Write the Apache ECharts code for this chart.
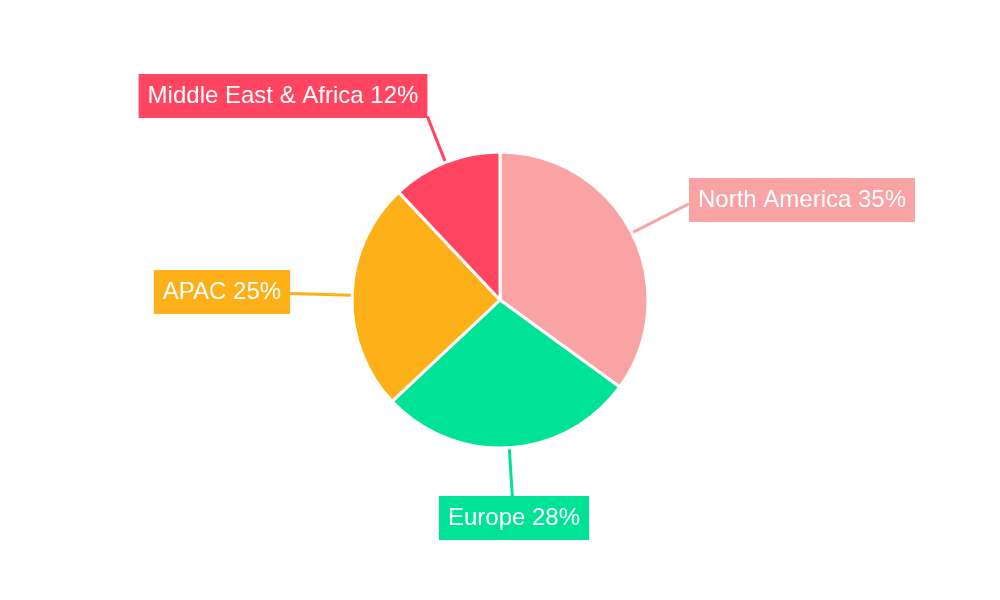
<!DOCTYPE html>
<html><head><meta charset="utf-8">
<script src="https://cdn.jsdelivr.net/npm/echarts@6/dist/echarts.min.js"></script>
<style>html,body{margin:0;padding:0;background:#fff}#c{width:1000px;height:600px}</style>
</head><body><div id="c"></div>
<script>
const categories = ["North America", "Europe", "APAC", "Middle East & Africa"];
const values = [35, 28, 25, 12];
const colors = ["#F9A3A4", "#00E396", "#FEB019", "#FF4560"];
// label box centres (layout only)
const labelCentres = [[802, 200], [514, 518], [222, 292], [283, 96]];

function radialLine(p, cx, cy) {
  const pts = p.labelLinePoints;
  if (!pts || pts.length < 2) return undefined;
  const a = pts[0], b = pts[1];
  let dx = b[0] - a[0], dy = b[1] - a[1];
  const len = Math.hypot(dx, dy) || 1;
  dx /= len; dy /= len;
  const w = p.labelRect.width, h = p.labelRect.height;
  const l = cx - w / 2, r = cx + w / 2, t = cy - h / 2, bt = cy + h / 2;
  const tx1 = dx !== 0 ? (l - a[0]) / dx : -Infinity;
  const tx2 = dx !== 0 ? (r - a[0]) / dx : -Infinity;
  const ty1 = dy !== 0 ? (t - a[1]) / dy : -Infinity;
  const ty2 = dy !== 0 ? (bt - a[1]) / dy : -Infinity;
  const tEnter = Math.max(Math.min(tx1, tx2), Math.min(ty1, ty2));
  return [[a[0], a[1]], [a[0] + dx * tEnter, a[1] + dy * tEnter]];
}

const chart = echarts.init(document.getElementById('c'), null, {renderer: 'canvas'});
chart.setOption({
  animation: false,
  series: [{
    type: 'pie',
    center: [500, 300],
    radius: 148,
    startAngle: 90,
    clockwise: true,
    data: categories.map((n, i) => ({name: n, value: values[i], itemStyle: {color: colors[i]}, label: {backgroundColor: colors[i]}})),
    itemStyle: {borderColor: '#fff', borderWidth: 3},
    label: {
      show: true,
      position: 'outside',
      formatter: p => p.name + ' ' + p.value + '%',
      color: '#fff',
      fontSize: 24,
      lineHeight: 24,
      fontFamily: 'Liberation Sans, Arial, sans-serif',
      padding: [12, 9, 8, 9],
      alignTo: 'none'
    },
    labelLine: {show: true, length: 50, length2: 0, smooth: false, lineStyle: {width: 3}},
    labelLayout: p => {
      const c = labelCentres[p.dataIndex];
      const out = {x: c[0], y: c[1], align: 'center', verticalAlign: 'middle'};
      const pts = radialLine(p, c[0], c[1]);
      if (pts) out.labelLinePoints = pts;
      return out;
    }
  }]
});
</script></body></html>
